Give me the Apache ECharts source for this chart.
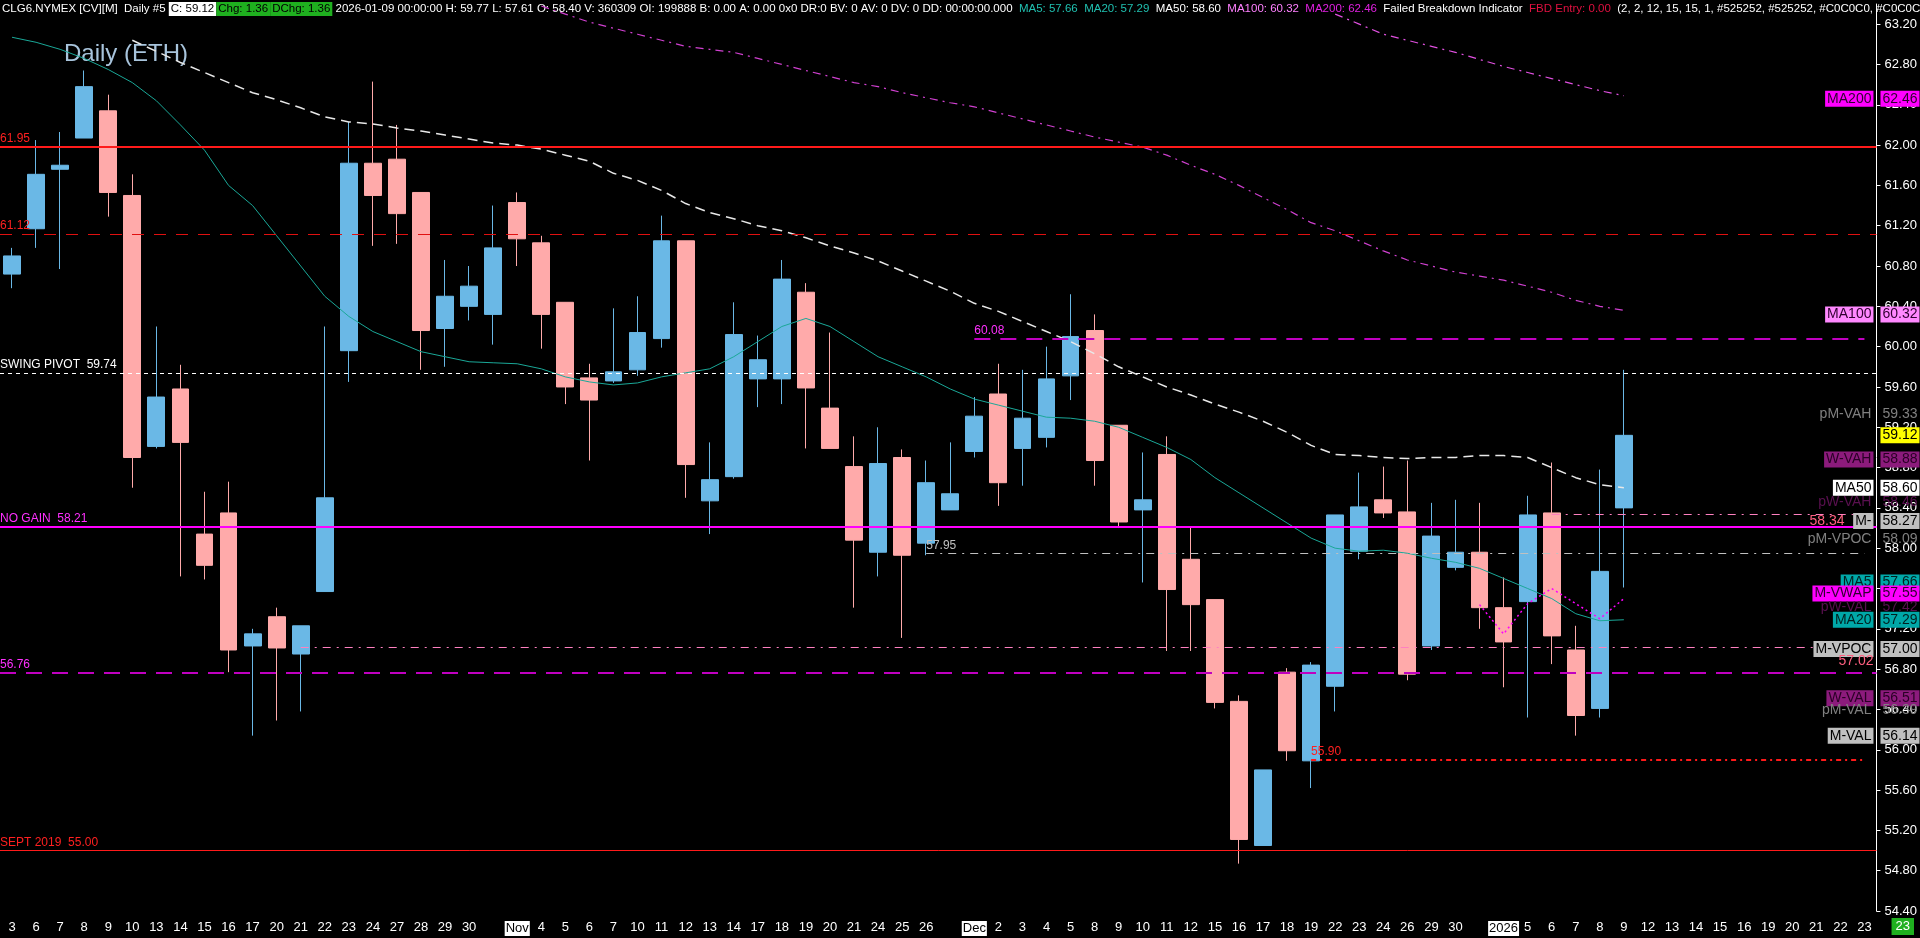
<!DOCTYPE html>
<html>
<head>
<meta charset="utf-8">
<script src="https://cdn.jsdelivr.net/npm/echarts@6/dist/echarts.min.js"></script>
<style>
  html, body { margin: 0; padding: 0; background: #000; }
  #chart { width: 1920px; height: 938px; }
</style>
</head>
<body>
<div id="chart"></div>
<script>
// trading days, Oct 3 2025 .. Jan 23 2026
const dates = [
  "3","6","7","8","9","10","13","14","15","16","17","20","21","22","23","24","27","28","29","30","",
  "Nov","4","5","6","7","10","11","12","13","14","17","18","19","20","21","24","25","26","",
  "Dec","2","3","4","5","8","9","10","11","12","15","16","17","18","19","22","23","24","26","29","30","",
  "2026","5","6","7","8","9","12","13","14","15","16","19","20","21","22","23"
];

// [open, close, low, high]
const ohlc = [
  [60.72,60.90,60.58,60.98],[61.17,61.71,60.98,62.05],[61.76,61.80,60.77,62.13],[62.07,62.58,62.07,62.74],
  [62.34,61.53,61.29,62.50],[61.50,58.90,58.60,61.71],[59.01,59.50,58.99,60.20],[59.58,59.05,57.72,59.82],
  [58.14,57.83,57.69,58.56],[58.35,56.99,56.77,58.66],[57.03,57.15,56.14,57.20],[57.32,57.01,56.29,57.41],
  [56.95,57.23,56.38,57.23],[57.57,58.50,57.57,60.20],[59.96,61.82,59.65,62.23],[61.82,61.50,61.00,62.63],
  [61.86,61.32,61.02,62.20],[61.53,60.16,59.77,61.53],[60.18,60.50,59.80,60.86],[60.40,60.60,60.26,60.80],
  [60.32,60.98,60.02,61.40],[61.43,61.07,60.80,61.53],[61.03,60.32,59.98,61.10],[60.44,59.60,59.43,60.44],
  [59.69,59.47,58.87,59.83],[59.66,59.75,59.64,60.38],[59.77,60.14,59.71,60.50],[60.08,61.05,59.99,61.30],
  [61.05,58.83,58.50,61.05],[58.47,58.68,58.14,59.05],[58.71,60.12,58.69,60.44],[59.68,59.87,59.40,60.11],
  [59.68,60.67,59.43,60.86],[60.54,59.59,58.99,60.63],[59.39,58.99,58.99,60.14],[58.81,58.08,57.41,59.11],
  [57.96,58.84,57.72,59.20],[58.90,57.93,57.11,58.98],[58.05,58.65,57.93,58.87],[58.38,58.54,58.38,59.05],
  [58.96,59.31,58.90,59.50],[59.53,58.65,58.42,59.83],[58.99,59.29,58.62,59.77],[59.10,59.68,59.00,60.00],
  [59.71,60.10,59.47,60.52],[60.16,58.87,58.62,60.32],[59.22,58.26,58.20,59.22],[58.38,58.48,57.66,58.95],
  [58.93,57.59,56.98,59.11],[57.89,57.44,56.98,58.21],[57.49,56.47,56.41,57.49],[56.48,55.11,54.87,56.54],
  [55.05,55.80,55.05,55.80],[56.77,55.99,55.89,56.81],[55.89,56.84,55.62,56.87],[56.63,58.33,56.38,58.33],
  [57.97,58.41,57.89,58.75],[58.48,58.35,58.30,58.81],[58.36,56.75,56.69,58.87],[57.03,58.12,56.99,58.45],
  [57.81,57.96,57.78,58.48],[57.96,57.41,57.20,58.45],[57.41,57.07,56.62,57.71],[57.47,58.33,56.32,58.52],
  [58.35,57.13,56.85,58.85],[56.99,56.34,56.14,57.23],[56.41,57.77,56.32,58.78],[58.40,59.12,57.61,59.77]
];

const ma20 = [
  63.07,63.02,62.95,62.86,62.75,62.62,62.44,62.20,61.95,61.60,61.40,61.10,60.80,60.50,60.30,60.15,60.05,59.95,59.90,59.85,
  59.84,59.83,59.78,59.70,59.65,59.62,59.64,59.70,59.74,59.78,59.90,60.05,60.20,60.28,60.20,60.05,59.90,59.80,59.70,59.58,
  59.48,59.42,59.36,59.30,59.29,59.26,59.20,59.10,59.00,58.88,58.70,58.55,58.40,58.25,58.10,58.00,57.97,57.98,57.95,57.90,
  57.86,57.80,57.70,57.60,57.50,57.35,57.28,57.29
];

const ma50 = [
  null,null,null,null,null,63.04,62.93,62.82,62.72,62.62,62.52,62.45,62.37,62.28,62.23,62.21,62.17,62.14,62.10,62.06,
  62.02,62.00,61.96,61.90,61.84,61.72,61.65,61.55,61.42,61.33,61.27,61.20,61.15,61.08,61.00,60.93,60.85,60.75,60.65,60.55,
  60.43,60.35,60.25,60.15,60.05,59.93,59.80,59.70,59.60,59.52,59.43,59.35,59.26,59.15,59.02,58.93,58.92,58.90,58.89,58.90,
  58.90,58.92,58.92,58.90,58.80,58.70,58.63,58.60
];

const ma100 = [
  null,null,null,null,null,null,null,null,null,null,null,null,null,null,null,null,null,null,null,null,
  null,null,63.38,63.30,63.22,63.16,63.10,63.04,62.98,62.95,62.92,62.86,62.80,62.74,62.68,62.62,62.58,62.52,62.47,62.42,
  62.38,62.32,62.26,62.20,62.14,62.08,62.03,61.98,61.90,61.80,61.71,61.60,61.48,61.36,61.23,61.15,61.05,60.95,60.86,60.80,
  60.74,60.70,60.66,60.60,60.54,60.46,60.40,60.36
];

const ma200 = [
  null,null,null,null,null,null,null,null,null,null,null,null,null,null,null,null,null,null,null,null,
  null,null,null,null,null,null,null,null,null,null,null,null,null,null,null,null,null,null,null,null,
  null,null,null,null,null,null,null,null,null,null,null,null,null,null,null,63.30,63.20,63.10,63.04,62.98,
  62.92,62.85,62.78,62.72,62.66,62.60,62.54,62.49
];

const ma5 = [
  null,null,null,null,null,null,null,null,null,null,null,null,null,null,null,null,null,null,null,null,
  null,null,null,null,null,null,null,null,null,null,null,null,null,null,null,null,null,null,null,null,
  null,null,null,null,null,null,null,null,null,null,null,null,null,null,null,null,null,null,null,null,
  null,57.44,57.15,57.45,57.60,57.45,57.30,57.50
];

// horizontal levels: [value, startIndex (-1 = full width), label]
const levels = [
  [61.98, -1, "61.95"],
  [61.12, -1, "61.12"],
  [60.08, 40, "60.08"],
  [59.74, -1, "SWING PIVOT  59.74"],
  [58.34, 64, ""],
  [58.21, -1, "NO GAIN  58.21"],
  [57.95, 38, "57.95"],
  [57.02, 12, ""],
  [56.76, -1, "56.76"],
  [55.90, 54, "55.90"],
  [55.00, -1, "SEPT 2019  55.00"]
];
const levelStyles = [
  { color: "#ff1a1a", type: "solid", width: 2, label: "#ff2020" },
  { color: "#e01010", type: [12, 10], width: 1, label: "#ff2020" },
  { color: "#c000c0", type: [16, 10], width: 2, label: "#ff30ff" },
  { color: "#ffffff", type: [4, 4], width: 1, label: "#ffffff" },
  { color: "#ff80c0", type: [8, 6, 2, 6], width: 1, label: "#ff80c0" },
  { color: "#ff00ff", type: "solid", width: 2, label: "#ff30ff" },
  { color: "#c0c0c0", type: [8, 6, 2, 6], width: 1, label: "#c0c0c0" },
  { color: "#ff80c0", type: [8, 6, 2, 6], width: 1, label: "#ff80c0" },
  { color: "#c000c0", type: [16, 10], width: 2, label: "#ff30ff" },
  { color: "#ff1a1a", type: [5, 4, 2, 4], width: 2, label: "#ff2020" },
  { color: "#ff1a1a", type: "solid", width: 1, label: "#ff2020" }
];

// right axis tags
const tagValues = [62.46, 60.32, 59.33, 59.12, 58.88, 58.60, 58.46, 58.27, 58.09, 57.66, 57.55, 57.42, 57.29, 57.00, 56.51, 56.39, 56.14];
const tagNames = ["MA200", "MA100", "pM-VAH", "", "W-VAH", "MA50", "pW-VAH", "M-", "pM-VPOC", "MA5", "M-VWAP", "pW-VAL", "MA20", "M-VPOC", "W-VAL", "pM-VAL", "M-VAL"];
const tagStyle = {
  "MA200": ["#ff00ff", "#300030"], "MA100": ["#ff88ff", "#300030"], "pM-VAH": [null, "#808080"],
  "": ["#ffff00", "#000"], "W-VAH": ["#8c1b7c", "#2a0025"], "MA50": ["#ffffff", "#000"],
  "pW-VAH": [null, "#5a1050"], "M-": ["#c0c0c0", "#000"], "pM-VPOC": [null, "#808080"],
  "MA5": ["#00a8a8", "#002020"], "M-VWAP": ["#ff00ff", "#300030"], "pW-VAL": [null, "#5a1050"],
  "MA20": ["#00a8a8", "#002020"], "M-VPOC": ["#c0c0c0", "#000"], "W-VAL": ["#8c1b7c", "#2a0025"],
  "pM-VAL": [null, "#808080"], "M-VAL": ["#c0c0c0", "#000"]
};

const UP = "#6ab8e6", DOWN = "#ffaaaa";
const FONT = "Liberation Sans Narrow, Liberation Sans, sans-serif";
const chart = echarts.init(document.getElementById("chart"));

const markLines = levels.map((l, k) => {
  const s = levelStyles[k];
  const start = {
    lineStyle: { color: s.color, type: s.type, width: s.width },
    label: { show: !!l[2], formatter: l[2], position: "insideStartTop", color: s.label, fontSize: 12, distance: [0, 2] }
  };
  if (l[1] < 0) return Object.assign(start, { yAxis: l[0] });
  start.coord = [l[1], l[0]];
  return [start, { coord: [dates.length - 1, l[0]] }];
});

chart.setOption({
  backgroundColor: "#000",
  animation: false,
  textStyle: { fontFamily: FONT },
  grid: { left: 0, right: 37, top: 4, bottom: 27 },
  xAxis: {
    type: "category",
    data: dates,
    boundaryGap: true,
    axisLine: { show: false },
    axisTick: { show: false },
    splitLine: { show: false },
    axisLabel: {
      interval: 0, color: "#fff", fontSize: 13, margin: 10,
      formatter: (v) => (v === "Nov" || v === "Dec" || v === "2026") ? "{m|" + v + "}" : v,
      rich: { m: { backgroundColor: "#fff", color: "#000", padding: [1, 1], fontSize: 13 } }
    }
  },
  yAxis: {
    type: "value", position: "right", min: 54.4, max: 63.4, interval: 0.4,
    axisLine: { show: true, lineStyle: { color: "#fff", width: 1 } },
    axisTick: { show: true, length: 4, lineStyle: { color: "#fff" } },
    splitLine: { show: false },
    axisLabel: { color: "#fff", fontSize: 13, showMaxLabel: false, formatter: (v) => v.toFixed(2) }
  },
  series: [
    {
      type: "candlestick", data: ohlc, barWidth: "72%",
      itemStyle: { color: UP, color0: DOWN, borderColor: UP, borderColor0: DOWN, borderWidth: 1 },
      markLine: { symbol: "none", silent: true, data: markLines }
    },
    { type: "line", data: ma20, symbol: "none", lineStyle: { color: "#1aa898", width: 1 } },
    { type: "line", data: ma50, symbol: "none", lineStyle: { color: "#e8e8e8", width: 1.5, type: [10, 6] } },
    { type: "line", data: ma100, symbol: "none", lineStyle: { color: "#d040d0", width: 1.2, type: [8, 5, 2, 5] } },
    { type: "line", data: ma200, symbol: "none", lineStyle: { color: "#e050e0", width: 1.2, type: [8, 5, 2, 5] } },
    { type: "line", data: ma5, symbol: "none", lineStyle: { color: "#ff00ff", width: 1.5, type: [2, 3] } },
    {
      type: "custom", silent: true, z: 10,
      data: tagValues.map((v, i) => [0, v, i]),
      renderItem: (params, api) => {
        const v = api.value(1), i = api.value(2);
        const name = tagNames[i];
        const st = tagStyle[name];
        const y = api.coord([0, v])[1];
        const ax = params.coordSys.x + params.coordSys.width;
        const font = "14px " + FONT;
        const children = [{
          type: "text", x: ax + 4, y: y,
          style: { text: v.toFixed(2), fill: st[1], backgroundColor: st[0] || "transparent",
            font, verticalAlign: "middle", padding: [1, 2] }
        }];
        if (name) children.push({
          type: "text", x: ax - 3, y: y,
          style: { text: name, fill: st[1], backgroundColor: st[0] || "transparent", align: "right",
            font, verticalAlign: "middle", padding: [1, 2] }
        });
        if (name === "M-") children.push({
          type: "text", x: ax - 32, y: y, style: { text: "58.34", fill: "#ff6080", align: "right", font, verticalAlign: "middle" }
        });
        if (name === "M-VPOC") children.push({
          type: "text", x: ax - 3, y: y + 12, style: { text: "57.02", fill: "#ff6080", align: "right", font, verticalAlign: "middle" }
        });
        return { type: "group", children };
      }
    }
  ],
  graphic: [
    {
      type: "text", left: 2, top: 2,
      style: {
        font: "11.5px " + FONT,
        text: "{w|CLG6.NYMEX [CV][M]  Daily #5 }{c|C: 59.12}{g|Chg: 1.36}{g|DChg: 1.36}{w| 2026-01-09 00:00:00 H: 59.77 L: 57.61 O: 58.40 V: 360309 OI: 199888 B: 0.00 A: 0.00 0x0 DR:0 BV: 0 AV: 0 DV: 0 DD: 00:00:00.000  }{t|MA5: 57.66  MA20: 57.29  }{w|MA50: 58.60  }{p|MA100: 60.32  }{m|MA200: 62.46  }{w|Failed Breakdown Indicator  }{r|FBD Entry: 0.00  }{w|(2, 2, 12, 15, 15, 1, #525252, #525252, #C0C0C0, #C0C0C0, 1, 9}",
        rich: {
          w: { fill: "#fff" }, c: { fill: "#000", backgroundColor: "#fff", padding: [1, 2] },
          g: { fill: "#000", backgroundColor: "#1fb01f", padding: [1, 2] },
          t: { fill: "#20c0b0" }, p: { fill: "#ff80ff" }, m: { fill: "#e020e0" }, r: { fill: "#e01040" }
        }
      }
    },
    { type: "text", left: 64, top: 42, style: { text: "Daily (ETH)", fill: "#a8c4dc", font: "24px Liberation Sans, sans-serif" } },
    { type: "text", right: 6, top: 918, style: { text: "23", fill: "#fff", backgroundColor: "#1fb01f", padding: [2, 4], font: "13px " + FONT } }
  ]
});
</script>
</body>
</html>
